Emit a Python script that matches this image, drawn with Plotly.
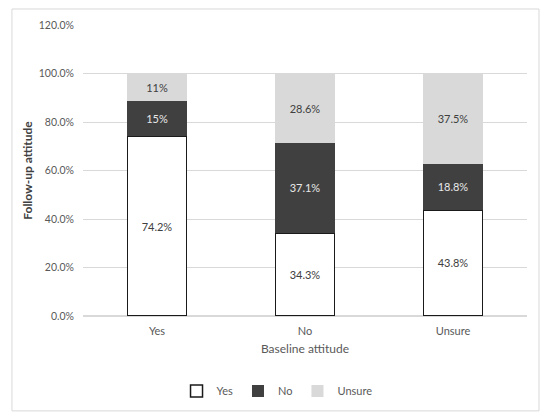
import plotly.graph_objects as go

# Baseline attitude categories
baseline = ["Yes", "No", "Unsure"]

# Follow-up attitude (% of each baseline group)
yes_pct = [74.2, 34.3, 43.8]
no_pct = [14.5, 37.1, 18.8]
unsure_pct = [11.3, 28.6, 37.5]

# labels as printed on the bars
yes_lbl = ["74.2%", "34.3%", "43.8%"]
no_lbl = ["15%", "37.1%", "18.8%"]
unsure_lbl = ["11%", "28.6%", "37.5%"]

y_ticks = [0, 20, 40, 60, 80, 100, 120]
y_ticktext = ["0.0%", "20.0%", "40.0%", "60.0%", "80.0%", "100.0%", "120.0%"]

FONT = "Lato, sans-serif"
GREY_TXT = "#595959"

fig = go.Figure()

fig.add_trace(go.Bar(
    x=baseline, y=yes_pct, name="Yes",
    text=yes_lbl, textposition="inside", insidetextanchor="middle",
    textfont=dict(color="#404040", size=11, family=FONT),
    marker=dict(color="white", line=dict(color="#1a1a1a", width=1.5)),
    width=0.4
))
fig.add_trace(go.Bar(
    x=baseline, y=no_pct, name="No",
    text=no_lbl, textposition="inside", insidetextanchor="middle",
    textfont=dict(color="#e8e8e8", size=11, family=FONT),
    marker=dict(color="#404040", line=dict(width=0)),
    width=0.4
))
fig.add_trace(go.Bar(
    x=baseline, y=unsure_pct, name="Unsure",
    text=unsure_lbl, textposition="inside", insidetextanchor="middle",
    textfont=dict(color="#404040", size=11, family=FONT),
    marker=dict(color="#d9d9d9", line=dict(width=0)),
    width=0.4
))

# page has an 8px body margin, so the figure is a bit smaller than the window
fig.update_layout(
    barmode="stack",
    width=542, height=410,
    margin=dict(l=75, r=23, t=17, b=102),
    paper_bgcolor="white", plot_bgcolor="white",
    font=dict(family=FONT, size=11, color=GREY_TXT),
    uniformtext=dict(minsize=11, mode="show"),
    legend=dict(
        orientation="h", x=0.437, xanchor="center", y=-0.258, yanchor="middle",
        font=dict(size=11, color=GREY_TXT), itemwidth=30, traceorder="normal",
        itemclick=False
    ),
    shapes=[dict(
        type="rect", xref="paper", yref="paper",
        x0=-0.16, x1=1.027, y0=-0.326, y1=1.055,
        line=dict(color="#d9d9d9", width=1), fillcolor="rgba(0,0,0,0)", layer="above"
    )]
)

fig.update_xaxes(
    showgrid=False, showline=False, zeroline=False,
    ticklabelstandoff=7,
    tickfont=dict(size=11, color=GREY_TXT),
    title=dict(text="Baseline attitude", font=dict(size=12, color=GREY_TXT), standoff=8)
)
fig.update_yaxes(
    range=[0, 120], tickvals=y_ticks, ticktext=y_ticktext,
    showgrid=True, gridcolor="#d9d9d9", gridwidth=1,
    zeroline=True, zerolinecolor="#d9d9d9", showline=False,
    ticklabelstandoff=8,
    tickfont=dict(size=10.5, color=GREY_TXT),
    title=dict(text="<b>Follow-up attitude</b>", font=dict(size=12, color="#404040"), standoff=3)
)

fig.write_html("out.html")
